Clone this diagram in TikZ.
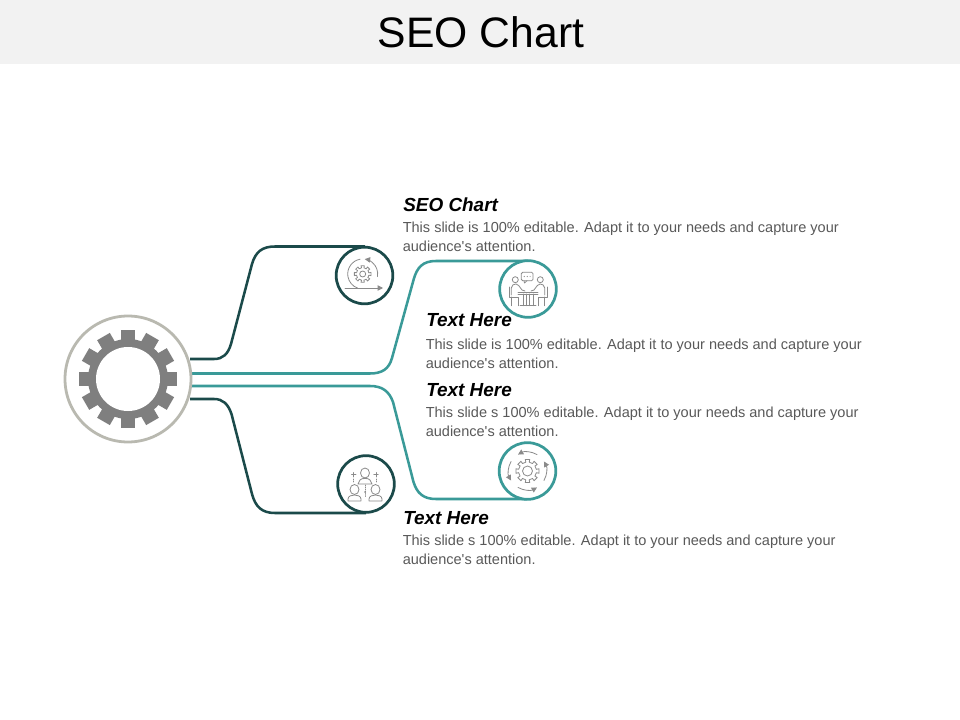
\documentclass[tikz,border=0pt]{standalone}
\usepackage{fontspec}
\setmainfont{Liberation Sans}
\newfontfamily\plainf{Liberation Sans}
\usetikzlibrary{arrows.meta}
\definecolor{darkteal}{HTML}{1B4A4A}
\definecolor{teal2}{HTML}{3A9A98}
\definecolor{ringgray}{HTML}{B9B9B0}
\definecolor{geargray}{HTML}{7F7F7F}
\definecolor{bodygray}{HTML}{595959}
\definecolor{iconc}{HTML}{8A8A8A}
\newcommand{\bodyfont}{\plainf\fontsize{10.9pt}{13.9pt}\selectfont}
\newcommand{\gearpath}[6]{% cx cy rroot rtip n halfwidthangle
  \foreach \gi in {1,...,#5}{
    \pgfmathsetmacro{\ga}{(\gi-1)*360/#5}
    \pgfmathsetmacro{\gb}{\ga+#6}
    \pgfmathsetmacro{\gc}{\ga-#6}
    \pgfmathsetmacro{\gd}{\ga+360/#5-#6}
    \draw[icn] ({#1+#3*cos(\gc)},{#2+#3*sin(\gc)}) -- ({#1+#4*cos(\gc)},{#2+#4*sin(\gc)}) -- ({#1+#4*cos(\gb)},{#2+#4*sin(\gb)}) -- ({#1+#3*cos(\gb)},{#2+#3*sin(\gb)}) -- ({#1+#3*cos(\gd)},{#2+#3*sin(\gd)});
  }
}
\tikzset{
  icn/.style={draw=iconc,line width=0.6pt,line cap=round,line join=round},
  headtxt/.style={anchor=west,inner sep=0pt,font=\fontsize{14.2pt}{17pt}\selectfont\bfseries\itshape,text=black},
  bodytxt/.style={anchor=west,inner sep=0pt,align=left,font=\bodyfont,text=bodygray},
  ringd/.style={circle,draw=darkteal,line width=2.05pt,fill=white,minimum size=42.5pt,inner sep=0pt},
  ringt/.style={circle,draw=teal2,line width=2.05pt,fill=white,minimum size=42.5pt,inner sep=0pt},
  lnd/.style={draw=darkteal,line width=1.9pt},
  lnt/.style={draw=teal2,line width=1.9pt},
  tipi/.style={-{Triangle[length=4pt,width=4pt]}},
}
\begin{document}
\begin{tikzpicture}[x=0.75pt,y=-0.75pt]
\useasboundingbox (0,0) rectangle (960,720);
\fill[white] (0,0) rectangle (960,720);
\fill[black!5] (0,0) rectangle (960,64);
\node[anchor=center,inner sep=0pt,font=\fontsize{32pt}{38pt}\selectfont,text=black] (title) at (481,32) {SEO Chart};

% hub
\coordinate (hubc) at (128,379);
\coordinate (a1) at (190,359);
\coordinate (a2) at (192,373.5);
\coordinate (a3) at (192,386);
\coordinate (a4) at (190,399);
\coordinate (t1) at (365,246.5);
\coordinate (t2) at (528,261);
\coordinate (t3) at (527,499);
\coordinate (t4) at (366,513);

% connectors
\draw[lnd] (a1) -- (214,359) .. controls (223,359) and (228,354) .. (231,344) -- (252,264) .. controls (255.5,252) and (262,246.5) .. (275,246.5) -- (t1);
\draw[lnd] (a4) -- (214,399) .. controls (223,399) and (228,404) .. (231.5,414) -- (252,494) .. controls (255.5,507) and (262,513) .. (275,513) -- (t4);
\draw[lnt] (a2) -- (370,373.5) .. controls (382,373.5) and (389,369) .. (392,358) -- (413.5,280) .. controls (417,267) and (423,261) .. (436,261) -- (t2);
\draw[lnt] (a3) -- (370,386) .. controls (382,386) and (389,391) .. (393,402) -- (413.5,482) .. controls (417,493) and (423,499) .. (436,499) -- (t3);

% hub ring and gear
\node[circle,draw=ringgray,line width=2.1pt,fill=white,minimum size=94.5pt,inner sep=0pt] (hub) at (hubc) {};
\foreach \k in {0,30,...,330}{
  \fill[geargray,rotate around={\k:(hubc)}] (120.7,379-49) rectangle (135.3,379-36);
}
\fill[geargray] (hubc) circle[radius=40];
\fill[white] (hubc) circle[radius=32];

% icon rings
\node[ringd] (n1) at (364.5,275.5) {};
\node[ringt] (n2) at (528,289) {};
\node[ringt] (n3) at (527.5,471) {};
\node[ringd] (n4) at (366,484) {};

% icon 1: gear with cycle arrow
\begin{scope}[shift={(n1.center)}]
  \gearpath{-1.8}{-1.5}{6.3}{8.5}{8}{11}
  \draw[icn] (-1.8,-1.5) circle[radius=3];
  \draw[icn,tipi] (-1.8,-1.5) ++(10:15) arc[start angle=10,end angle=-82,radius=15];
  \draw[icn] (-1.8,-1.5) ++(-100:15) arc[start angle=-100,end angle=-250,radius=15];
  \draw[icn,tipi] (-19.5,12.5) -- (18.5,12.5);
\end{scope}

% icon 2: two people at a table
\begin{scope}[shift={(n2.center)}]
  \draw[icn,rounded corners=1pt] (-6.7,-16.7) rectangle (5,-8.3);
  \draw[icn] (-4,-8.3) -- (-3.5,-6) -- (-1,-8.3);
  \fill[iconc] (-3.7,-12.5) circle[radius=.6] (-.8,-12.5) circle[radius=.6] (2.1,-12.5) circle[radius=.6];
  \draw[icn] (-12.7,-9.3) circle[radius=3];
  \draw[icn] (12.3,-9.3) circle[radius=3];
  \draw[icn] (-16.7,6) -- (-16.7,-1) .. controls (-16.7,-4) and (-14,-5) .. (-12,-5) .. controls (-10,-5) and (-9,-3) .. (-6,1) -- (-3,2);
  \draw[icn] (16.7,6) -- (16.7,-1) .. controls (16.7,-4) and (14,-5) .. (12,-5) .. controls (10,-5) and (9,-3) .. (6,1) -- (3,2);
  \draw[icn] (-19,-2) -- (-19,8) -- (-10,8) -- (-10,16.7) (-16.7,8) -- (-16.7,16.7);
  \draw[icn] (19,-2) -- (19,8) -- (10,8) -- (10,16.7) (16.7,8) -- (16.7,16.7);
  \draw[icn] (-10,3) -- (10,3) (-10,5) -- (10,5);
  \draw[icn] (-5,5) -- (-5,16.7) (-1.7,5) -- (-1.7,16.7) (1.7,5) -- (1.7,16.7) (5,5) -- (5,16.7);
  \draw[icn] (-8,16.7) -- (8,16.7);
\end{scope}

% icon 3: gear with four arrows
\begin{scope}[shift={(n3.center)}]
  \gearpath{0}{0}{9}{11.7}{8}{11}
  \draw[icn] (0,0) circle[radius=5];
  \draw[icn,tipi] (0,0) ++(-60:19) arc[start angle=-60,end angle=-120,radius=19];
  \draw[icn,tipi] (0,0) ++(-150:19) arc[start angle=-150,end angle=-210,radius=19];
  \draw[icn,tipi] (0,0) ++(120:19) arc[start angle=120,end angle=60,radius=19];
  \draw[icn,tipi] (0,0) ++(30:19) arc[start angle=30,end angle=-30,radius=19];
\end{scope}

% icon 4: three people
\begin{scope}[shift={(n4.center)}]
  \draw[icn] (-1,-11) ellipse[x radius=4.5,y radius=5];
  \draw[icn] (-8,0) -- (-6,-4) .. controls (-5,-5.5) and (-3,-5.5) .. (-1,-5.5) .. controls (1,-5.5) and (3,-5.5) .. (4,-4) -- (6,0) -- cycle;
  \draw[icn] (-11.5,5.5) ellipse[x radius=4.5,y radius=5];
  \draw[icn] (9.5,5.5) ellipse[x radius=4.5,y radius=5];
  \draw[icn] (-18,17) -- (-18,15) .. controls (-18,12) and (-14,11) .. (-11.5,11) .. controls (-9,11) and (-5,12) .. (-5,15) -- (-5,17) -- cycle;
  \draw[icn] (3,17) -- (3,15) .. controls (3,12) and (7,11) .. (9.5,11) .. controls (12,11) and (16,12) .. (16,15) -- (16,17) -- cycle;
  \draw[icn] (-14.5,-9.3) -- (-10,-9.3) (-12.3,-11.5) -- (-12.3,-7);
  \draw[icn] (7.8,-9.3) -- (12.2,-9.3) (10,-11.5) -- (10,-7);
  \draw[icn,densely dotted] (-12.3,-5) -- (-12.3,-1) (10,-5) -- (10,-1);
  \draw[icn,densely dotted] (-1,1) -- (-1,13);
  \fill[iconc] (-1,8) circle[radius=1];
\end{scope}

% texts
\node[headtxt] (h1) at (403,205) {SEO Chart};
\node[bodytxt] (b1) at (402.5,237) {This slide is 100\% editable. Adapt it to your needs and capture your\\audience's attention.};
\node[headtxt] (h2) at (426,320) {Text Here};
\node[bodytxt] (b2) at (425.5,354) {This slide is 100\% editable. Adapt it to your needs and capture your\\audience's attention.};
\node[headtxt] (h3) at (426,390) {Text Here};
\node[bodytxt] (b3) at (425.5,422) {This slide s 100\% editable. Adapt it to your needs and capture your\\audience's attention.};
\node[headtxt] (h4) at (403,518) {Text Here};
\node[bodytxt] (b4) at (402.5,550) {This slide s 100\% editable. Adapt it to your needs and capture your\\audience's attention.};
\end{tikzpicture}
\end{document}
